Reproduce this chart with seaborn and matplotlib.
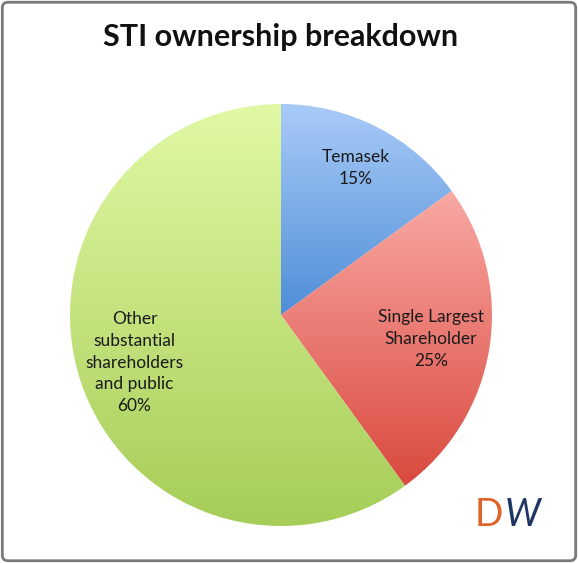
import numpy as np
import matplotlib
matplotlib.use("Agg")
import matplotlib.pyplot as plt
from matplotlib.colors import LinearSegmentedColormap
from matplotlib.patches import FancyBboxPatch
import seaborn as sns

sns.set_theme(style="white")
plt.rcParams["font.family"] = ["Lato", "DejaVu Sans"]

# data
labels = ["Temasek", "Single Largest\nShareholder", "Other\nsubstantial\nshareholders\nand public"]
shares = [15, 25, 60]
top_colors = ["#a9cbf8", "#f9a9a4", "#e1f9a4"]
bottom_colors = ["#4f8ed7", "#d9493e", "#a6cd58"]
label_dist = [0.78, 0.72, 0.73]

W, H = 578, 563
fig = plt.figure(figsize=(W / 100, H / 100), dpi=100)

cx, cy, r = 281, 315, 211
ax = fig.add_axes([(cx - r) / W, (H - cy - r) / H, 2 * r / W, 2 * r / H])

wedges, _ = ax.pie(shares, startangle=90, counterclock=False, radius=1,
                   wedgeprops=dict(linewidth=0))
ax.set_aspect("equal")
ax.axis("off")

grad = np.linspace(1, 0, 256).reshape(-1, 1)
for i, w in enumerate(wedges):
    w.set_facecolor("none")
    bb = w.get_path().get_extents(w.get_patch_transform())
    cmap = LinearSegmentedColormap.from_list(f"g{i}", [bottom_colors[i], top_colors[i]])
    im = ax.imshow(grad, cmap=cmap, aspect="auto",
                   extent=[bb.x0, bb.x1, bb.y0, bb.y1], zorder=1, interpolation="bilinear")
    im.set_clip_path(w)
    ang = np.deg2rad((w.theta1 + w.theta2) / 2)
    d = label_dist[i]
    ax.text(d * np.cos(ang), d * np.sin(ang), f"{labels[i]}\n{shares[i]}%",
            ha="center", va="center", fontsize=12.5, color="#1a1a1a",
            linespacing=1.45, zorder=3)
ax.set_xlim(-1, 1)
ax.set_ylim(-1, 1)

fig.text(cx / W, 1 - 37 / H, "STI ownership breakdown", ha="center", va="center",
         fontsize=22, fontweight="bold", color="#111111")

# DW logo
fig.text(0.845, 1 - 515 / H, "D", ha="center", va="center", fontsize=27,
         color="#e0622a")
fig.text(0.905, 1 - 515 / H, "W", ha="center", va="center", fontsize=27,
         color="#1f3563", style="italic")

border = FancyBboxPatch((0.004, 0.004), 0.992, 0.992, boxstyle="round,pad=0,rounding_size=0.01",
                        transform=fig.transFigure, fill=False, edgecolor="#7a7a7a", linewidth=2)
fig.patches.append(border)

fig.savefig("out.png", dpi=100, facecolor="white")
